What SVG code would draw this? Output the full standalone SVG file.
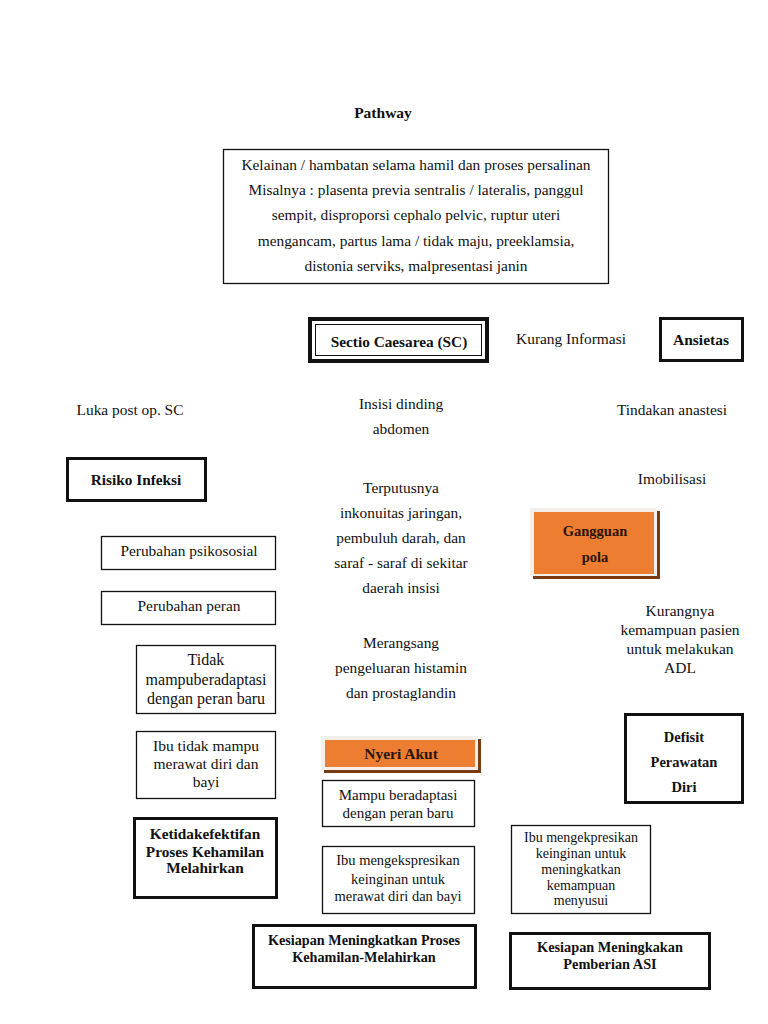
<svg xmlns="http://www.w3.org/2000/svg" width="768" height="1024" viewBox="0 0 768 1024">
<style>
text{font-family:"Liberation Serif","DejaVu Serif",serif;font-size:15.4px;fill:#111;text-anchor:middle;dominant-baseline:central}
.b{font-weight:bold;font-size:15.3px}
.thin{fill:#fff;stroke:#111;stroke-width:1.3}
.thick{fill:#fff;stroke:#111;stroke-width:3}
.or{fill:#ED7D31}
.ob{fill:#F4EFEA}
.sh{fill:#7A3A12}
.ot{fill:#2a1408;font-weight:bold}
</style>
<rect width="768" height="1024" fill="#fff"/>
<text class="b" x="383" y="112" style="font-size:15.5px">Pathway</text>

<g id="n-kelainan">
<rect class="thin" x="223.5" y="149.5" width="385" height="134"/>
<text x="416" y="164">Kelainan / hambatan selama hamil dan proses persalinan</text>
<text x="416" y="189">Misalnya : plasenta previa sentralis / lateralis, panggul</text>
<text x="416" y="214">sempit, disproporsi cephalo pelvic, ruptur uteri</text>
<text x="416" y="240">mengancam, partus lama / tidak maju, preeklamsia,</text>
<text x="416" y="265">distonia serviks, malpresentasi janin</text>
</g>

<g id="n-sc">
<rect fill="#fff" stroke="#111" stroke-width="4" x="310" y="319" width="177" height="42"/>
<rect fill="none" stroke="#111" stroke-width="1" x="315.5" y="324.5" width="166" height="31"/>
<text class="b" x="399" y="341">Sectio Caesarea (SC)</text>
</g>

<g id="n-kurang-info"><text x="571" y="338">Kurang Informasi</text></g>

<g id="n-ansietas">
<rect class="thick" x="660.5" y="318.5" width="82" height="42"/>
<text class="b" x="701" y="339" style="font-size:15.5px">Ansietas</text>
</g>

<g id="n-luka"><text x="130" y="409">Luka post op. SC</text></g>

<g id="n-insisi">
<text x="401" y="403">Insisi dinding</text>
<text x="401" y="428">abdomen</text>
</g>

<g id="n-anastesi"><text x="672" y="409">Tindakan anastesi</text></g>

<g id="n-risiko">
<rect class="thick" x="67.5" y="458.5" width="138" height="42"/>
<text class="b" x="136" y="479">Risiko Infeksi</text>
</g>

<g id="n-imobilisasi"><text x="672" y="478">Imobilisasi</text></g>

<g id="n-terputus">
<text x="401" y="487">Terputusnya</text>
<text x="401" y="512">inkonuitas jaringan,</text>
<text x="401" y="537">pembuluh darah, dan</text>
<text x="401" y="562">saraf - saraf di sekitar</text>
<text x="401" y="587">daerah insisi</text>
</g>

<g id="n-gangguan">
<rect class="sh" x="533" y="511" width="127" height="68"/>
<rect class="ob" x="530" y="508" width="127" height="68"/>
<rect class="or" x="534" y="512" width="120" height="62"/>
<text class="ot" x="595" y="531" style="font-size:14.5px">Gangguan</text>
<text class="ot" x="595" y="557" style="font-size:14.5px">pola</text>
</g>

<g id="n-psikososial">
<rect class="thin" x="101.5" y="536.5" width="174" height="33"/>
<text x="189" y="550">Perubahan psikososial</text>
</g>

<g id="n-peran">
<rect class="thin" x="101.5" y="591.5" width="174" height="33"/>
<text x="189" y="605">Perubahan peran</text>
</g>

<g id="n-kurangnya">
<text x="680" y="610" style="font-size:15.5px">Kurangnya</text>
<text x="680" y="629" style="font-size:15.5px">kemampuan pasien</text>
<text x="680" y="648" style="font-size:15.5px">untuk melakukan</text>
<text x="680" y="667" style="font-size:15.5px">ADL</text>
</g>

<g id="n-tidak">
<rect class="thin" x="136.5" y="645.5" width="139" height="68"/>
<text x="206" y="659" style="font-size:16px">Tidak</text>
<text x="206" y="679" style="font-size:16px">mampuberadaptasi</text>
<text x="206" y="698" style="font-size:16px">dengan peran baru</text>
</g>

<g id="n-merangsang">
<text x="401" y="642">Merangsang</text>
<text x="401" y="667">pengeluaran histamin</text>
<text x="401" y="692">dan prostaglandin</text>
</g>

<g id="n-defisit">
<rect class="thick" x="625.5" y="714.5" width="117" height="88"/>
<text class="b" x="684" y="737" style="font-size:14.5px">Defisit</text>
<text class="b" x="684" y="762" style="font-size:14.5px">Perawatan</text>
<text class="b" x="684" y="787" style="font-size:14.5px">Diri</text>
</g>

<g id="n-ibu-tidak">
<rect class="thin" x="136.5" y="731.5" width="139" height="67"/>
<text x="206" y="745" style="font-size:15.5px">Ibu tidak mampu</text>
<text x="206" y="763" style="font-size:15.5px">merawat diri dan</text>
<text x="206" y="781" style="font-size:15.5px">bayi</text>
</g>

<g id="n-nyeri">
<rect class="sh" x="324" y="739" width="157" height="34"/>
<rect class="ob" x="321" y="736" width="157" height="34"/>
<rect class="or" x="325" y="740" width="150" height="27"/>
<text class="ot" x="401" y="753" style="font-size:15.5px">Nyeri Akut</text>
</g>

<g id="n-mampu">
<rect class="thin" x="322.5" y="780.5" width="152" height="46"/>
<text x="398" y="795" style="font-size:15px">Mampu beradaptasi</text>
<text x="398" y="813" style="font-size:15px">dengan peran baru</text>
</g>

<g id="n-ketidakefektifan">
<rect class="thick" x="134.5" y="818.5" width="142" height="79"/>
<text class="b" x="205" y="833">Ketidakefektifan</text>
<text class="b" x="205" y="851">Proses Kehamilan</text>
<text class="b" x="205" y="867">Melahirkan</text>
</g>

<g id="n-ibu-menyusui">
<rect class="thin" x="511.5" y="825.5" width="139" height="88"/>
<text x="581" y="837" style="font-size:14px">Ibu mengekpresikan</text>
<text x="581" y="853" style="font-size:14px">keinginan untuk</text>
<text x="581" y="869" style="font-size:14px">meningkatkan</text>
<text x="581" y="885" style="font-size:14px">kemampuan</text>
<text x="581" y="900" style="font-size:14px">menyusui</text>
</g>

<g id="n-ibu-merawat">
<rect class="thin" x="322.5" y="846.5" width="152" height="67"/>
<text x="398" y="860" style="font-size:14.5px">Ibu mengekspresikan</text>
<text x="398" y="879" style="font-size:14.5px">keinginan untuk</text>
<text x="398" y="896" style="font-size:14.5px">merawat diri dan bayi</text>
</g>

<g id="n-kesiapan-proses">
<rect class="thick" x="253.5" y="925.5" width="222" height="62"/>
<text class="b" x="364" y="940" style="font-size:14.2px">Kesiapan Meningkatkan Proses</text>
<text class="b" x="364" y="957" style="font-size:14.2px">Kehamilan-Melahirkan</text>
</g>

<g id="n-kesiapan-asi">
<rect class="thick" x="510.5" y="933.5" width="199" height="55"/>
<text class="b" x="610" y="947" style="font-size:14.3px">Kesiapan Meningkakan</text>
<text class="b" x="610" y="964" style="font-size:14.3px">Pemberian ASI</text>
</g>

<g id="connectors"></g>
</svg>
